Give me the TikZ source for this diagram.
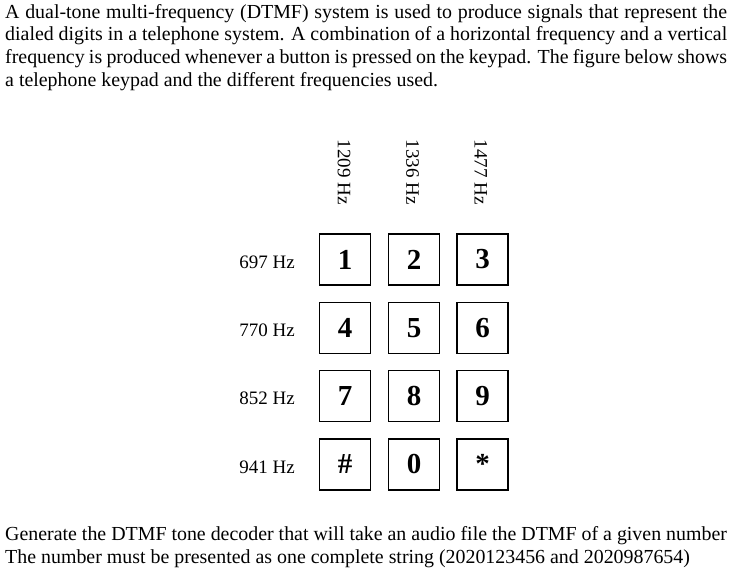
\documentclass[tikz,border=0pt]{standalone}
\usepackage{fontspec}
\setmainfont{Liberation Serif}
\begin{document}
\begin{tikzpicture}[x=1pt,y=-1pt,
  key/.style={draw,line width=1.2pt,minimum size=51pt,inner sep=0pt,font=\fontsize{29}{29}\selectfont\bfseries},
  lab/.style={font=\fontsize{19}{19}\selectfont,inner sep=0pt},
  txt/.style={font=\fontsize{19.9}{22.6}\selectfont,inner sep=0pt,anchor=north west}]
\useasboundingbox (0,0) rectangle (730,575);
\node[txt,text width=722pt,align=justify] (para) at (5,4) {A dual-tone multi-frequency (DTMF) system is used to produce signals that represent the\linebreak dialed digits in a telephone system. A combination of a horizontal frequency and a vertical\linebreak frequency is produced whenever a button is pressed on the keypad. The figure below shows\linebreak a telephone keypad and the different frequencies used.\par};
\foreach \t [count=\i] in {1209 Hz,1336 Hz,1477 Hz}
  \node[lab,rotate=-90] (c\i) at ({344+(\i-1)*68.5},172) {\t};
\foreach \t [count=\j] in {697 Hz,770 Hz,852 Hz,941 Hz}
  \node[lab] (r\j) at (267,{262+(\j-1)*68.3}) {\t};
\foreach \a/\b/\c [count=\j] in {1/2/3,4/5/6,7/8/9,\#/0/*}{
  \node[key] (k\j a) at (345,{259.5+(\j-1)*68.3}) {\a};
  \node[key] (k\j b) at (414,{259.5+(\j-1)*68.3}) {\b};
  \node[key] (k\j c) at (482.5,{259.5+(\j-1)*68.3}) {\c};
}
\node[txt] (l1) at (5,526) {Generate the DTMF tone decoder that will take an audio file the DTMF of a given number};
\node[txt] (l2) at (5,549) {The number must be presented as one complete string (2020123456 and 2020987654)};
\end{tikzpicture}
\end{document}
